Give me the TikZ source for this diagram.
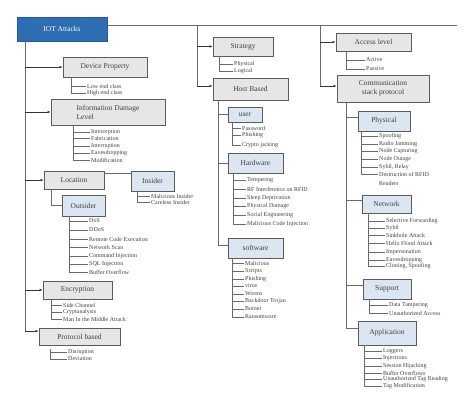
\documentclass[tikz,border=0pt]{standalone}
\usepackage{fontspec}
\setmainfont{Liberation Serif}
\usepackage{tikz}
\usetikzlibrary{arrows.meta,positioning}

\definecolor{rootblue}{HTML}{2E6DB4}
\definecolor{rootedge}{HTML}{24589A}
\definecolor{boxgray}{HTML}{E6E6E6}
\definecolor{boxblue}{HTML}{DCE6F2}
\definecolor{edgegray}{HTML}{5C5C5C}
\definecolor{linegray}{HTML}{6A6A6A}
\definecolor{textgray}{HTML}{404040}

\tikzset{
  rootbox/.style={draw=rootedge,fill=rootblue,line width=0.8pt,text=white,
    font=\fontsize{7.5}{8.5}\selectfont,inner sep=1pt},
  graybox/.style={draw=edgegray,fill=boxgray,line width=0.8pt,text=textgray,
    font=\fontsize{7.5}{9}\selectfont,inner sep=1pt},
  bluebox/.style={graybox,fill=boxblue},
  itemtext/.style={anchor=west,inner sep=1pt,text=textgray,
    font=\fontsize{6}{6.5}\selectfont},
  link/.style={draw=linegray,line width=0.6pt},
  arr/.style={link,-{Latex[length=3pt,width=2.6pt]},black!80},
}

% bracket with ticks under a box: name, bracket x, text x, top y, list y/text
\newcommand{\itemtree}[5]{%
  \coordinate (#1-top) at (#2,#4);
  \foreach \yy/\txt [count=\i] in {#5} {
    \node[itemtext] (#1-\i) at (#3,\yy) {\txt};
    \draw[link] (#1-top) -- (#1-top |- #1-\i.west) -- (#1-\i.west);
  }%
}

\begin{document}
\begin{tikzpicture}[x=1pt,y=-1pt]
  \useasboundingbox (0,0) rectangle (474,407);

  % root and top line
  \node[rootbox,minimum width=90,minimum height=24] (iot) at (62,29) {IOT Attacks};
  \coordinate (topend) at (457,25);
  \draw[link] (iot.east |- topend) -- (topend);
  \coordinate (trunkL) at (25,41);
  \coordinate (trunkM) at (197,25);
  \coordinate (trunkR) at (320,25);

  % left column
  \node[graybox,minimum width=84,minimum height=20] (devprop) at (105,67) {Device Property};
  \node[graybox,minimum width=114,minimum height=26,align=left] (infodmg) at (108,112)
    {Information Damage\\Level};
  \node[graybox,minimum width=60,minimum height=18] (location) at (74,180) {Location};
  \node[bluebox,minimum width=43,minimum height=20] (insider) at (152.5,181) {Insider};
  \node[bluebox,minimum width=43,minimum height=21] (outsider) at (83.5,205.5) {Outsider};
  \node[graybox,minimum width=69,minimum height=18] (encrypt) at (77.5,290) {Encryption};
  \node[graybox,minimum width=81,minimum height=17] (protocol) at (79.5,336.5) {Protocol based};

  \draw[link] (trunkL) -- ([yshift=5.5pt]protocol.west -| trunkL);
  \foreach \bx in {devprop,infodmg,location,encrypt}
    \draw[arr] (trunkL |- \bx.west) -- (\bx.west);
  \draw[arr] ([yshift=5.5pt]protocol.west -| trunkL) -- ([yshift=5.5pt]protocol.west);
  \draw[link] ([yshift=7pt]location.east) -- ([yshift=7pt]location.east -| insider.west);
  \coordinate (locdrop) at (51,189);
  \draw[link] (locdrop) |- (outsider.west);

  \itemtree{devprop}{71}{86}{77}{86/Low end class,93/High end class}
  \itemtree{infodmg}{73}{90}{125}{132/Interception,138.5/Fabrication,146/Interruption,
    153/Eavesdropping,160/Modification}
  \itemtree{insider}{137}{150}{191}{196/Malicious Insider,202.5/Careless Insider}
  \itemtree{outsider}{69}{88}{216}{221/DoS,230/DDoS,239/Remote Code Execution,
    247.5/Network Scan,256/Command Injection,264.5/SQL Injection,272/Buffer Overflow}
  \itemtree{encrypt}{51}{62}{299}{305/Side Channel,312/Cryptanalysis,
    319/Man In the Middle Attack}
  \itemtree{protocol}{50}{67}{349}{352/Disruption,359/Deviation}

  % middle column
  \node[graybox,minimum width=60,minimum height=19] (strategy) at (243,46.5) {Strategy};
  \node[graybox,minimum width=75,minimum height=22] (host) at (250.5,89) {Host Based};
  \node[bluebox,minimum width=34,minimum height=15] (user) at (245,114.5) {user};
  \node[bluebox,minimum width=55,minimum height=20] (hardware) at (255.5,163) {Hardware};
  \node[bluebox,minimum width=55,minimum height=20] (software) at (255.5,248) {software};

  \draw[link] (trunkM) -- ([yshift=3pt]host.west -| trunkM);
  \draw[arr] (trunkM |- strategy.west) -- (strategy.west);
  \draw[arr] ([yshift=3pt]host.west -| trunkM) -- ([yshift=3pt]host.west);
  \coordinate (hostdrop) at (218,100);
  \draw[link] (hostdrop) |- ([yshift=3pt]software.west);
  \draw[link] (hostdrop |- user.west) -- (user.west);
  \draw[link] (hostdrop |- hardware.west) -- (hardware.west);

  \itemtree{strategy}{219}{233}{56}{64/Physical,71/Logical}
  \itemtree{user}{232}{241}{122}{128/Password,135/Phishing,145/Crypto jacking}
  \itemtree{hardware}{233}{246}{173}{180/Tempering,189/RF Interference on RFID,
    198/Sleep Deprivation,206.5/Physical Damage,215/Social Engineering,
    224/Malicious Code Injection}
  \itemtree{software}{232}{244}{258}{263/Malicious,271/Scripts,279/Phishing,286/virus,
    294/Worms,301/Backdoor Trojan,309/Botnet,317/Ransomware}

  % right column
  \node[graybox,minimum width=75,minimum height=18] (access) at (373.5,42) {Access level};
  \node[graybox,minimum width=92,minimum height=27,align=center] (comm) at (383,88.5)
    {Communication\\stack protocol};
  \node[bluebox,minimum width=52,minimum height=20] (physical) at (384,121) {Physical};
  \node[bluebox,minimum width=49,minimum height=18] (network) at (386.5,204) {Network};
  \node[bluebox,minimum width=48,minimum height=20] (support) at (387,289) {Support};
  \node[bluebox,minimum width=58,minimum height=24] (application) at (387,333) {Application};

  \draw[link] (trunkR) -- ([yshift=2.5pt]comm.west -| trunkR);
  \draw[arr] (trunkR |- access.west) -- (access.west);
  \draw[arr] ([yshift=2.5pt]comm.west -| trunkR) -- ([yshift=2.5pt]comm.west);
  \coordinate (commdrop) at (346,102);
  \draw[link] (commdrop) |- ([yshift=5pt]application.west);
  \foreach \bx in {physical,network,support}
    \draw[link] ([yshift=4pt]\bx.west -| commdrop) -- ([yshift=4pt]\bx.west);

  \itemtree{access}{346}{365}{51}{60/Active,69/Passive}
  \itemtree{physical}{361}{378}{131}{136/Spoofing,144/Radio Jamming,151/Node Capturing,
    159/Node Outage,167/{Sybil, Relay},174/Destruction of RFID}
  \node[itemtext] (physical-wrap) at (378,183) {Readers};
  \itemtree{network}{368}{385}{213}{221/Selective Forwarding,228/Sybil,235/Sinkhole Attack,
    243/Hello Flood Attack,252/Impersonation,260/Eavesdropping,266.5/{Cloning, Spoofing}}
  \itemtree{support}{369}{388}{299}{305/Data Tampering,313/Unauthorized Access}
  \itemtree{application}{364}{382}{345}{351/Loggers,358/Injections,366/Session Hijacking,
    373/Buffer Overflows,379.5/Unauthorized Tag Reading,386/Tag Modification}
\end{tikzpicture}
\end{document}
